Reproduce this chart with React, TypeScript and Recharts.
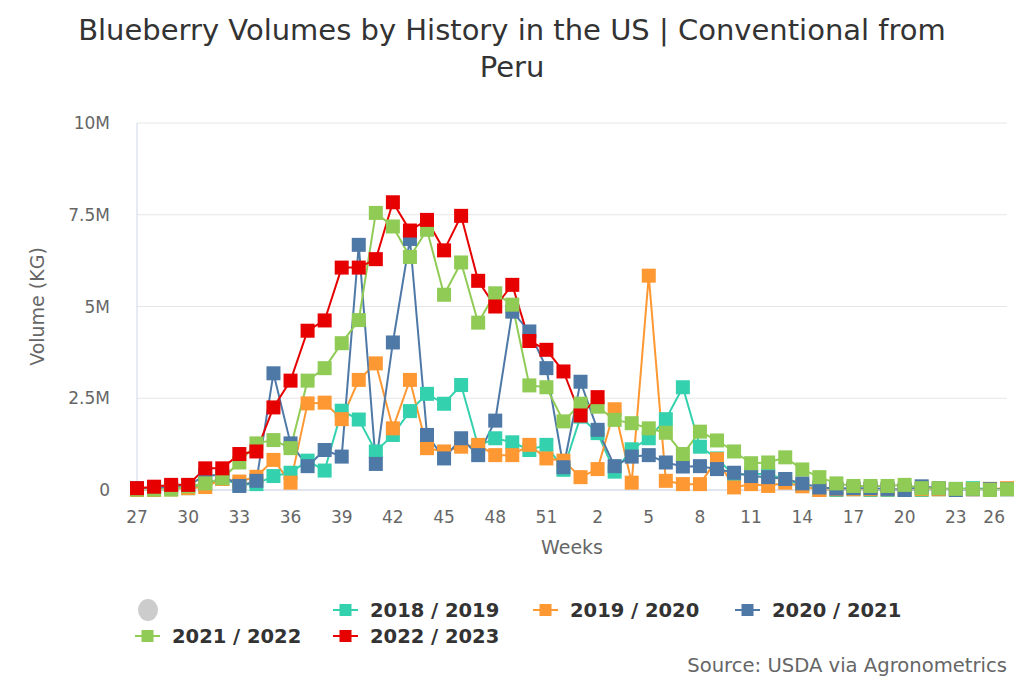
import { LineChart, Line, XAxis, YAxis, CartesianGrid, Label } from 'recharts';

// weekly volumes in millions of kg, marketing year runs week 27 -> week 26
const weeks = [
    '27', '28', '29', '30', '31', '32', '33', '34', '35', '36', '37', '38', '39', '40',
    '41', '42', '43', '44', '45', '46', '47', '48', '49', '50', '51', '52',
    '1', '2', '3', '4', '5', '6', '7', '8', '9', '10', '11', '12', '13', '14',
    '15', '16', '17', '18', '19', '20', '21', '22', '23', '24', '25', '26',
];

const season2018 = [
    0.02, 0.02, 0.03, 0.05, 0.15, 0.3, 0.15, 0.16, 0.38, 0.47, 0.8, 0.53, 2.16, 1.92,
    1.05, 1.5, 2.15, 2.62, 2.35, 2.86, 1.2, 1.41, 1.3, 1.09, 1.23, 0.55,
    2.0, 1.55, 0.5, 1.11, 1.41, 1.93, 2.8, 1.18, 0.86, 0.4, 0.45, 0.42, 0.3, 0.12,
    0.0, 0.0, 0.02, 0.0, 0.0, 0.0, 0.0, 0.02, 0.03, 0.05, 0.03, 0.03,
];

const season2019 = [
    0.0, 0.0, 0.02, 0.05, 0.08, 0.3, 0.23, 0.36, 0.82, 0.2, 2.36, 2.38, 1.93, 3.0,
    3.45, 1.68, 3.0, 1.14, 1.05, 1.18, 1.23, 0.95, 0.95, 1.23, 0.86, 0.8,
    0.35, 0.57, 2.2, 0.2, 5.84, 0.25, 0.16, 0.16, 0.84, 0.07, 0.16, 0.11, 0.2, 0.1,
    0.0, 0.02, 0.02, 0.02, 0.02, 0.02, 0.02, 0.02, 0.02, 0.02, 0.03, 0.05,
];

const season2020 = [
    0.05, 0.05, 0.1, 0.12, 0.4, 0.4, 0.11, 0.25, 3.18, 1.27, 0.65, 1.09, 0.91, 6.68,
    0.71, 4.02, 6.84, 1.5, 0.86, 1.41, 0.95, 1.89, 4.86, 4.32, 3.32, 0.62,
    2.95, 1.64, 0.65, 0.91, 0.95, 0.75, 0.64, 0.65, 0.57, 0.47, 0.38, 0.35, 0.3, 0.18,
    0.07, 0.04, 0.05, 0.05, 0.03, 0.0, 0.1, 0.05, 0.0, 0.02, 0.02, 0.02,
];

const season2021 = [
    0.01, 0.01, 0.01, 0.1, 0.18, 0.32, 0.75, 1.27, 1.36, 1.14, 2.98, 3.32, 4.0, 4.63,
    7.55, 7.18, 6.35, 7.09, 5.32, 6.2, 4.56, 5.36, 5.05, 2.85, 2.8, 1.87,
    2.35, 2.27, 1.91, 1.82, 1.68, 1.56, 0.98, 1.59, 1.35, 1.05, 0.73, 0.75, 0.89, 0.56,
    0.35, 0.18, 0.11, 0.11, 0.11, 0.14, 0.05, 0.05, 0.03, 0.03, 0.0, 0.02,
];

const season2022 = [
    0.05, 0.09, 0.14, 0.14, 0.59, 0.59, 0.98, 1.05, 2.25, 2.98, 4.34, 4.62, 6.06, 6.06,
    6.29, 7.84, 7.07, 7.36, 6.53, 7.47, 5.7, 5.0, 5.59, 4.06, 3.82, 3.23,
    2.03, 2.53, null, null, null, null, null, null, null, null, null, null, null, null,
    null, null, null, null, null, null, null, null, null, null, null, null,
];

const yTicks = [0, 2.5, 5, 7.5, 10];

const series = [
    { key: 's2018', name: '2018 / 2019', color: '#34d1ae', values: season2018 },
    { key: 's2019', name: '2019 / 2020', color: '#fe9833', values: season2019 },
    { key: 's2020', name: '2020 / 2021', color: '#4e79a7', values: season2020 },
    { key: 's2021', name: '2021 / 2022', color: '#90cb56', values: season2021 },
    { key: 's2022', name: '2022 / 2023', color: '#e60000', values: season2022 },
];

const data = weeks.map((week, i) => {
    const row: Record<string, string | number | null> = { week };
    series.forEach(s => {
        row[s.key] = s.values[i];
    });
    return row;
});

const FONT = '"DejaVu Sans", Verdana, sans-serif';

const squareDot = (color: string) => (props: any) => {
    const { cx, cy, index } = props;
    if (cx == null || cy == null) return <g key={index} />;
    return <rect key={index} x={cx - 7} y={cy - 7} width={14} height={14} fill={color} />;
};

const WeekTick = (props: any) => {
    const { x, y, payload } = props;
    // the last label is pulled inside the plot so it does not overflow
    const last = payload.value === weeks[weeks.length - 1];
    return (
        <text x={last ? x - 2 : x} y={y} dy="0.71em" textAnchor={last ? 'end' : 'middle'}
            fill="#666666" fontSize={17} fontFamily={FONT}>
            {payload.value}
        </text>
    );
};

const VolumeTitle = (props: any) => {
    const vb = props.viewBox;
    const cy = vb.y + vb.height / 2;
    return (
        <text x={37} y={cy} transform={`rotate(-90 37 ${cy})`} textAnchor="middle" dy="0.35em"
            fill="#666666" fontSize={19} fontFamily={FONT}>
            Volume (KG)
        </text>
    );
};

// legend slots: first slot holds the grey placeholder bubble
const legendSlots = [
    { x: 333, row: 0 },
    { x: 533, row: 0 },
    { x: 735, row: 0 },
    { x: 135, row: 1 },
    { x: 333, row: 1 },
];

const Overlay = () => (
    <svg width={1024} height={683} style={{ position: 'absolute', left: 0, top: 0, pointerEvents: 'none' }}>
        <ellipse cx={148} cy={610} rx={10} ry={11} fill="#cccccc" />
        {series.map((s, i) => {
            const slot = legendSlots[i];
            const cy = 610 + slot.row * 26;
            return (
                <g key={s.key}>
                    <line x1={slot.x} x2={slot.x + 25} y1={cy} y2={cy} stroke={s.color} strokeWidth={2} />
                    <rect x={slot.x + 6.5} y={cy - 6} width={12} height={12} fill={s.color} />
                    <text x={slot.x + 37} y={cy + 7} fontSize={19.5} fontWeight="bold" fill="#333333" fontFamily={FONT}>
                        {s.name}
                    </text>
                </g>
            );
        })}
        <text x={1007} y={672} textAnchor="end" fontSize={19.6} fill="#666666" fontFamily={FONT}>
            Source: USDA via Agronometrics
        </text>
    </svg>
);

export default function App() {
    return (
        <div style={{ position: 'absolute', left: 0, top: 0, width: 1024, height: 683, background: '#fff', fontFamily: FONT }}>
            <div style={{ position: 'absolute', left: 0, top: 12, width: 1024, textAlign: 'center', fontSize: 29, lineHeight: '36.5px', color: '#333333' }}>
                <div>Blueberry Volumes by History in the US | Conventional from</div>
                <div>Peru</div>
            </div>
            <div style={{ position: 'absolute', left: 0, top: 0 }}>
                <LineChart
                    width={1024}
                    height={683}
                    data={data}
                    margin={{ top: 123, right: 17, bottom: 0, left: 0 }}
                >
                    <CartesianGrid vertical={false} stroke="#e6e6e6" />
                    <XAxis
                        dataKey="week"
                        type="category"
                        scale="point"
                        padding={{ left: 0, right: 0 }}
                        interval={2}
                        height={193}
                        tickLine={false}
                        tickSize={0}
                        tickMargin={21}
                        tick={<WeekTick />}
                        axisLine={{ stroke: '#ccd6eb' }}
                    >
                        <Label value="Weeks" position="insideTop" offset={51} fill="#666666" fontSize={19} fontFamily={FONT} />
                    </XAxis>
                    <YAxis
                        width={137}
                        domain={[0, 10]}
                        ticks={yTicks}
                        interval={0}
                        tickLine={false}
                        tickSize={0}
                        tickMargin={27}
                        axisLine={{ stroke: '#ccd6eb' }}
                        tick={{ fill: '#666666', fontSize: 17, fontFamily: FONT }}
                        tickFormatter={(v: number) => (v === 0 ? '0' : `${v}M`)}
                    >
                        <Label content={<VolumeTitle />} />
                    </YAxis>
                    {series.map(s => (
                        <Line
                            key={s.key}
                            dataKey={s.key}
                            name={s.name}
                            type="linear"
                            stroke={s.color}
                            strokeWidth={2}
                            dot={squareDot(s.color)}
                            activeDot={false}
                            connectNulls={false}
                            isAnimationActive={false}
                        />
                    ))}
                </LineChart>
            </div>
            <Overlay />
        </div>
    );
}
